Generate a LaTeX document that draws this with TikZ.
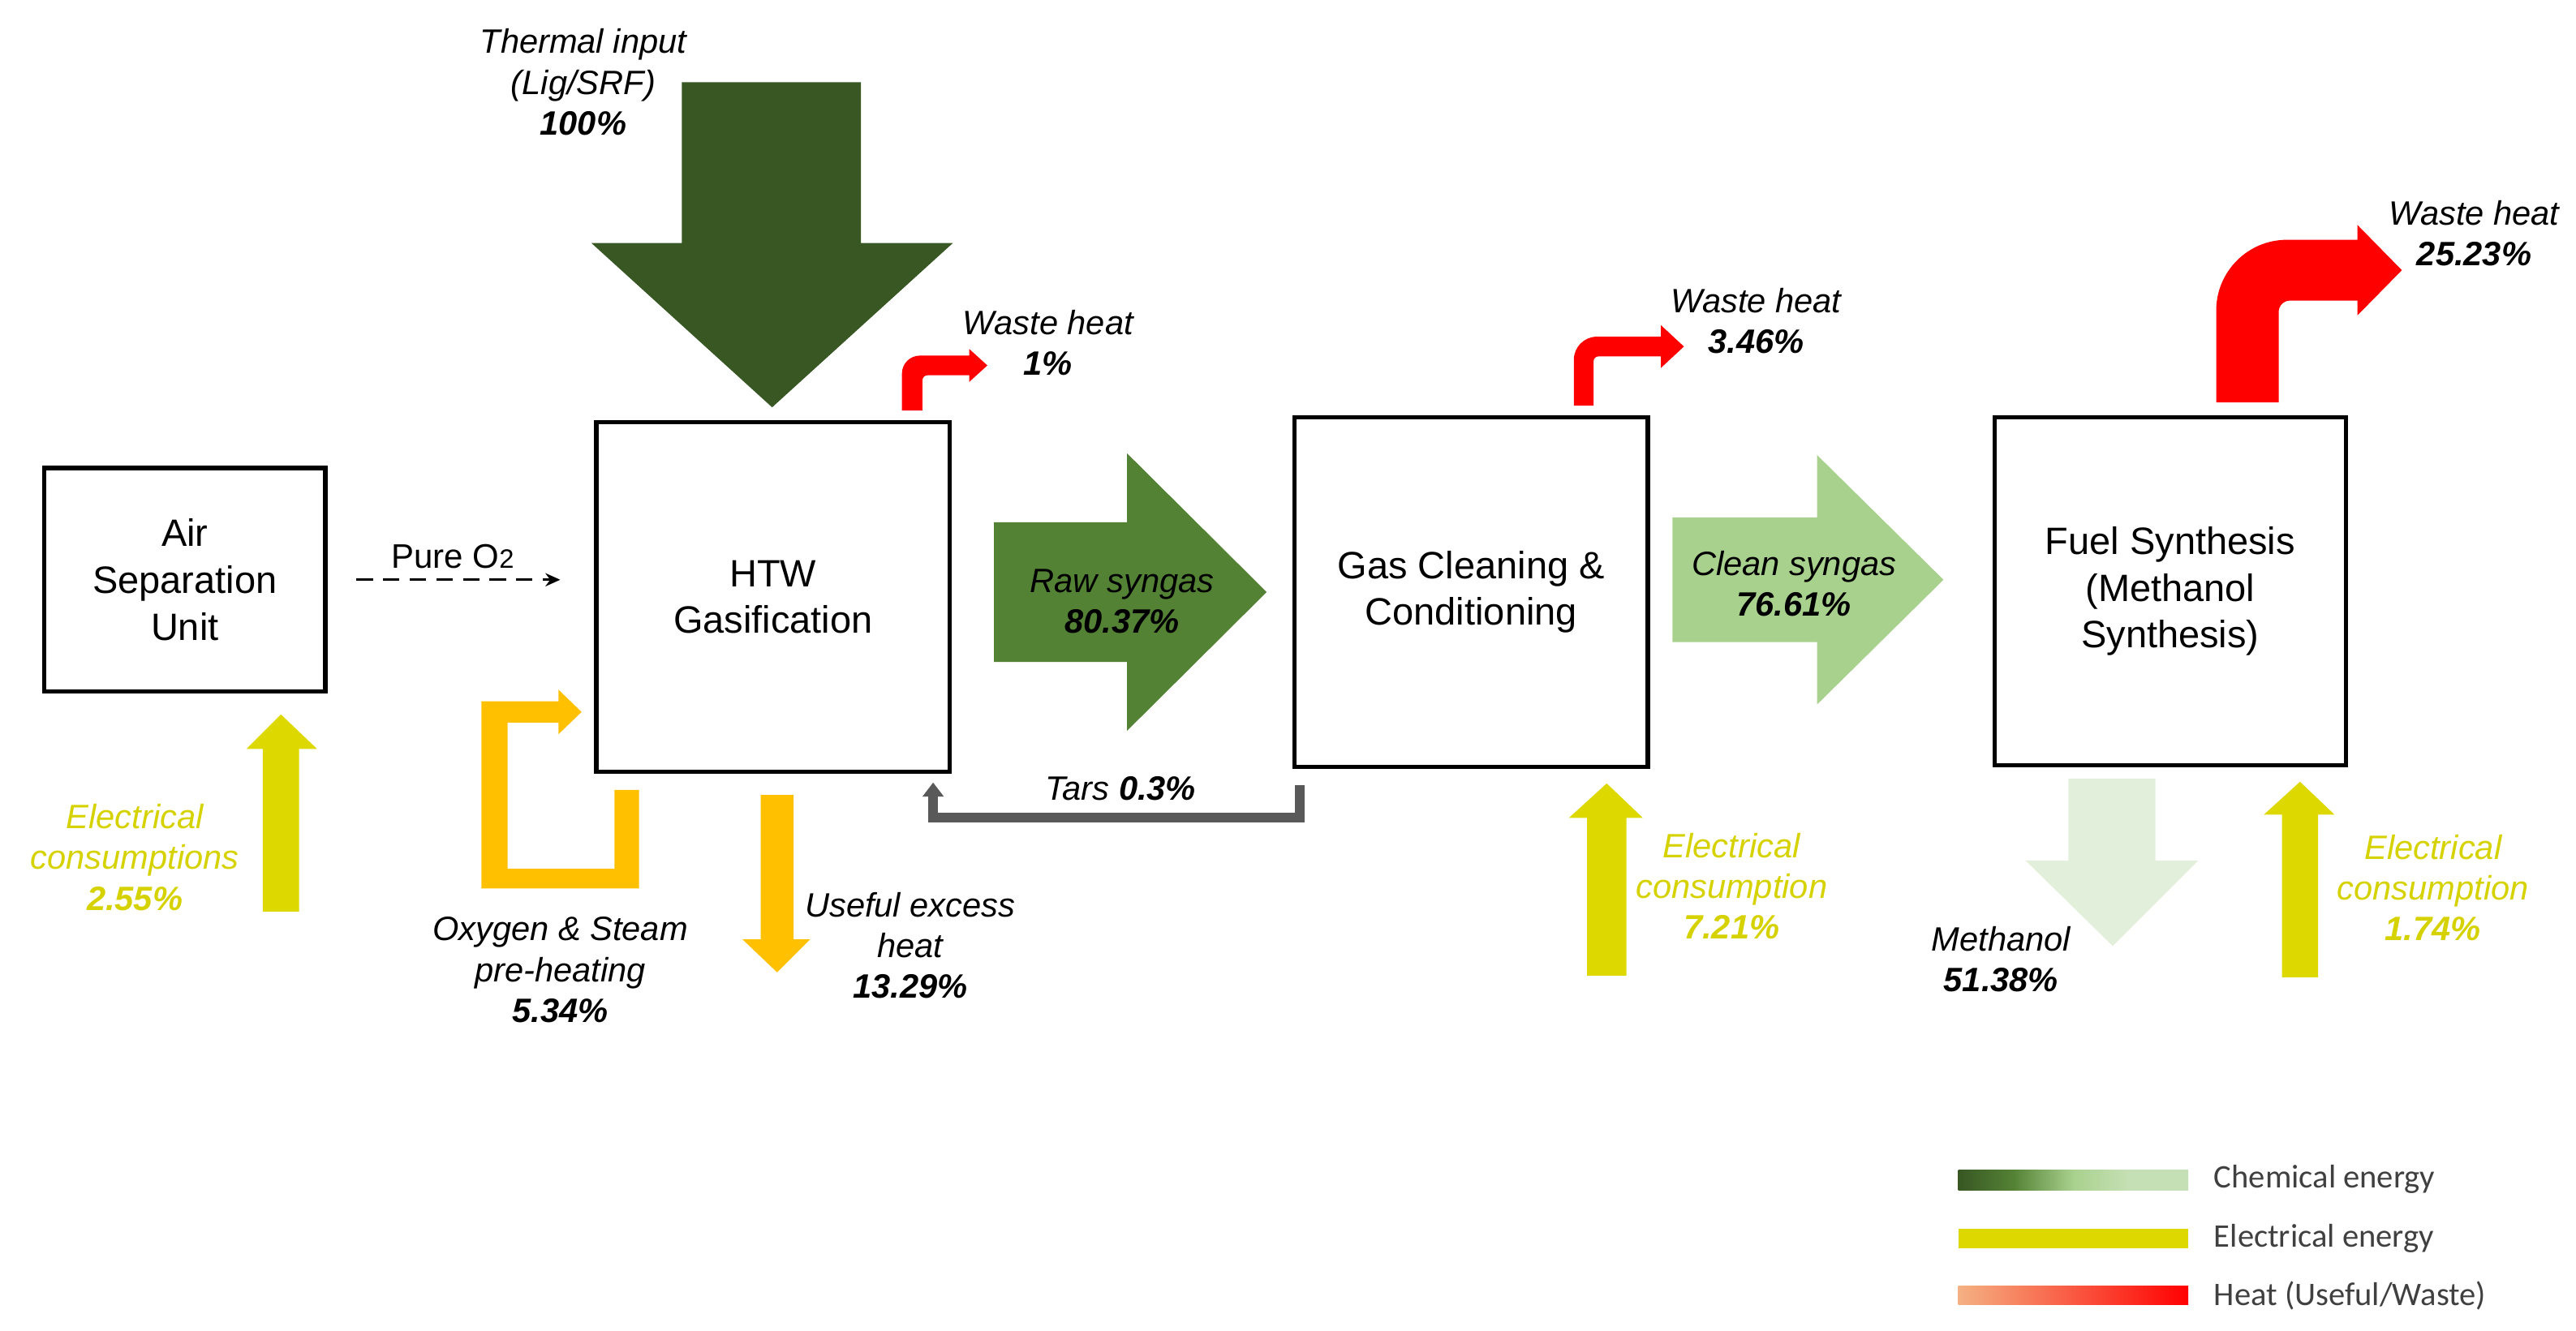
\documentclass[tikz,border=0pt]{standalone}
\usepackage{fontspec}
\setmainfont{Liberation Sans}
\newfontfamily\legendfont{Carlito}
\usetikzlibrary{arrows.meta}
\definecolor{thermal}{RGB}{56,87,35}
\definecolor{rawgreen}{RGB}{84,130,53}
\definecolor{cleangreen}{RGB}{169,209,142}
\definecolor{paleGreen}{RGB}{197,224,180}
\definecolor{methgreen}{RGB}{226,239,218}
\definecolor{orangeheat}{RGB}{255,192,0}
\definecolor{elec}{RGB}{221,216,0}
\definecolor{electext}{RGB}{214,210,0}
\definecolor{tarsgray}{RGB}{89,89,89}
\definecolor{heatA}{RGB}{244,177,131}
\definecolor{heatred}{RGB}{255,0,0}
\definecolor{legendgray}{RGB}{64,64,64}
\pgfdeclarehorizontalshading{chem}{100bp}{color(0bp)=(thermal); color(25bp)=(thermal); color(37bp)=(rawgreen); color(50bp)=(cleangreen); color(62bp)=(paleGreen); color(100bp)=(paleGreen)}
\tikzset{
  procbox/.style={draw=black, line width=0.75pt, fill=white, inner sep=0pt, align=center,
    font=\fontsize{6.6}{8.1}\selectfont},
  lbl/.style={align=center, inner sep=0pt, font=\fontsize{5.85}{7.05}\selectfont\itshape},
  elbl/.style={lbl, text=electext},
  legtxt/.style={anchor=west, inner sep=0pt, text=legendgray, font=\legendfont\fontsize{5.7}{6.8}\selectfont},
  redheat/.style={fill=heatred},
}
\begin{document}
\begin{tikzpicture}[x=0.1mm,y=-0.1mm]
\useasboundingbox (0,0) rectangle (1568,810);

% process boxes
\node[procbox, minimum width=17.1mm, minimum height=13.6mm] (asu) at (112.5,353) {Air\\Separation\\Unit};
\node[procbox, minimum width=21.5mm, minimum height=21.3mm] (htw) at (470.5,363.5) {HTW\\Gasification};
\node[procbox, minimum width=21.5mm, minimum height=21.3mm] (gcc) at (895.5,360.5) {Gas Cleaning \&\\Conditioning};
\node[procbox, minimum width=21.4mm, minimum height=21.2mm] (fsy) at (1321,360) {Fuel Synthesis\\(Methanol\\Synthesis)};

% thermal input arrow
\fill[thermal] (415,50) -- (524,50) -- (524,148) -- (580,148) -- (470,248) -- (360,148) -- (415,148) -- cycle;
\node[lbl] (thlbl) at (355,50) {Thermal input\\(Lig/SRF)\\\textbf{100\%}};

% raw syngas
\fill[rawgreen] (605,318) -- (686,318) -- (686,276) -- (771,360.5) -- (686,445) -- (686,403) -- (605,403) -- cycle;
\node[lbl] (rawlbl) at (683,366) {Raw syngas\\\textbf{80.37\%}};

% clean syngas
\fill[cleangreen] (1018,315) -- (1106,315) -- (1106,277) -- (1183,353) -- (1106,429) -- (1106,391) -- (1018,391) -- cycle;
\node[lbl] (cleanlbl) at (1092,355.5) {Clean syngas\\\textbf{76.61\%}};

% methanol
\fill[methgreen] (1259,474) -- (1312,474) -- (1312,524) -- (1338,524) -- (1286,576) -- (1233,524) -- (1259,524) -- cycle;
\node[lbl] (methlbl) at (1218,584) {Methanol\\\textbf{51.38\%}};

% waste heat 1%
\fill[redheat] (549,250) -- (549,227.5) .. controls (549,221.4) and (553.9,216.5) .. (560,216.5) -- (590,216.5) -- (590,212.5) -- (601,222.5) -- (590,232.5) -- (590,228.5) -- (564.5,228.5) .. controls (562.8,228.5) and (561.5,229.8) .. (561.5,231.5) -- (561.5,250) -- cycle;
\node[lbl] (wh1) at (638,208.5) {Waste heat\\\textbf{1\%}};

% waste heat 3.46%
\fill[redheat] (958,247) -- (958,219) .. controls (958,211.3) and (964.3,205) .. (972,205) -- (1011,205) -- (1011,198) -- (1025,211) -- (1011,224) -- (1011,217) -- (973,217) .. controls (971.3,217) and (970,218.3) .. (970,220) -- (970,247) -- cycle;
\node[lbl] (wh2) at (1069,195.5) {Waste heat\\\textbf{3.46\%}};

% waste heat 25.23%
\fill[redheat] (1349,245) -- (1349,189) .. controls (1349,165.3) and (1368.3,146) .. (1392,146) -- (1435,146) -- (1435,137) -- (1462,164.5) -- (1435,192) -- (1435,183) -- (1394,183) .. controls (1390.1,183) and (1387,186.1) .. (1387,190) -- (1387,245) -- cycle;
\node[lbl] (wh3) at (1506,142) {Waste heat\\\textbf{25.23\%}};

% electrical arrows
\fill[elec] (160,555) -- (160,456) -- (150,456) -- (171,435) -- (193,456) -- (182,456) -- (182,555) -- cycle;
\node[elbl] (el1) at (82,522) {Electrical\\consumptions\\\textbf{2.55\%}};
\fill[elec] (966,594) -- (966,498) -- (955,498) -- (978,477) -- (1000,498) -- (990,498) -- (990,594) -- cycle;
\node[elbl] (el2) at (1054,539.5) {Electrical\\consumption\\\textbf{7.21\%}};
\fill[elec] (1389,595) -- (1389,496) -- (1378,496) -- (1400,476) -- (1421,496) -- (1411,496) -- (1411,595) -- cycle;
\node[elbl] (el3) at (1481,540.5) {Electrical\\consumption\\\textbf{1.74\%}};

% oxygen & steam pre-heating
\fill[orangeheat] (374,481) -- (389,481) -- (389,541) -- (293,541) -- (293,427) -- (340,427) -- (340,420) -- (354,433.5) -- (340,447) -- (340,440) -- (309,440) -- (309,529) -- (374,529) -- cycle;
\node[lbl] (oxlbl) at (341,590.5) {Oxygen \& Steam\\pre-heating\\\textbf{5.34\%}};

% useful excess heat
\fill[orangeheat] (463,484) -- (483,484) -- (483,572) -- (493,572) -- (473,592) -- (452,572) -- (463,572) -- cycle;
\node[lbl] (uslbl) at (554,575.5) {Useful excess\\heat\\\textbf{13.29\%}};

% pure O2
\coordinate (o2s) at (217,353);
\coordinate (o2e) at (341,353);
\draw[line width=0.4pt, dash pattern=on 1mm off 0.62mm, -{Stealth[length=0.9mm,width=0.8mm]}] (o2s) -- (o2e);
\node[inner sep=0pt, font=\fontsize{5.9}{7}\selectfont] (o2lbl) at (275.5,339) {Pure O{\fontsize{4.6}{5}\selectfont 2}};

% tars
\coordinate (tarS) at (791,478);
\coordinate (tarA) at (791,498);
\coordinate (tarB) at (568,498);
\coordinate (tarE) at (568,484);
\draw[tarsgray, line width=0.6mm, line join=miter] (tarS) -- (tarA) -- (tarB) -- (tarE);
\fill[tarsgray] (561.5,485) -- (568,476.5) -- (574.5,485) -- cycle;
\node[lbl] (tarlbl) at (682,480) {Tars \textbf{0.3\%}};

% legend
\shade[shading=chem] (1192,712.5) rectangle (1332,724.5);
\fill[elec] (1192,748) rectangle (1332,760);
\shade[left color=heatA, right color=heatred] (1192,783) rectangle (1332,794.5);
\node[legtxt] (lg1) at (1347,718) {Chemical energy};
\node[legtxt] (lg2) at (1347,754) {Electrical energy};
\node[legtxt] (lg3) at (1347,789) {Heat (Useful/Waste)};
\end{tikzpicture}
\end{document}
